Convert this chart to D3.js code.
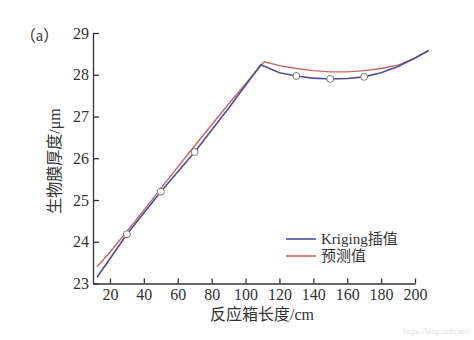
<!DOCTYPE html>
<html>
<head>
<meta charset="utf-8">
<script src="https://cdn.jsdelivr.net/npm/d3@7"></script>
<style>
  body { margin: 0; background: #fff; }
  svg text { font-family: "Liberation Serif", "Times New Roman", "DejaVu Serif", "Noto Sans CJK SC", serif; fill: #333; }
</style>
</head>
<body>
<div id="chart"></div>
<script>
// values
var krigingX = [12.4, 30, 50, 70, 90, 109, 120, 130, 140, 150, 160, 170, 180, 190, 200, 208];
var krigingY = [23.15, 24.18, 25.2, 26.15, 27.2, 28.24, 28.05, 27.97, 27.92, 27.9, 27.91, 27.95, 28.05, 28.2, 28.4, 28.58];
var predX = [12.4, 20, 30, 40, 50, 70, 90, 111, 120, 130, 140, 150, 160, 170, 180, 190, 200, 208];
var predY = [23.4, 23.75, 24.25, 24.75, 25.28, 26.3, 27.3, 28.31, 28.22, 28.15, 28.1, 28.07, 28.07, 28.1, 28.15, 28.23, 28.4, 28.58];
var markerX = [30, 50, 70, 130, 150, 170];
var xTicks = [20, 40, 60, 80, 100, 120, 140, 160, 180, 200];
var yTicks = [23, 24, 25, 26, 27, 28, 29];
var seriesNames = ["Kriging插值", "预测值"];
var seriesColors = ["#4b4f9a", "#c8675f"];

var width = 474, height = 340;
var fontStack = '"Liberation Serif", "Times New Roman", "DejaVu Serif", "Noto Sans CJK SC", serif';

var svg = d3.select("#chart").append("svg")
    .attr("width", width)
    .attr("height", height);

var x = d3.scaleLinear().domain([10, 200]).range([93, 415]);
var y = d3.scaleLinear().domain([23, 29]).range([283.5, 33]);

// axes
var xAxis = d3.axisBottom(x).tickValues(xTicks).tickSize(-5).tickSizeOuter(0).tickPadding(5).tickFormat(d3.format("d"));
var yAxis = d3.axisLeft(y).tickValues(yTicks).tickSize(-6).tickSizeOuter(0).tickPadding(4).tickFormat(d3.format("d"));

var gx = svg.append("g").attr("transform", "translate(0," + y(23) + ")").call(xAxis);
var gy = svg.append("g").attr("transform", "translate(" + x(10) + ",0)").call(yAxis);

[gx, gy].forEach(function (g) {
    g.attr("font-family", fontStack);
    g.selectAll("path, line").attr("stroke", "#333").attr("stroke-width", 1.3);
    g.selectAll("text").style("font-size", "16px").style("font-family", fontStack).attr("fill", "#333");
});

// lines
var line = d3.line()
    .x(function (d) { return x(d[0]); })
    .y(function (d) { return y(d[1]); });

var krigingData = krigingX.map(function (v, i) { return [v, krigingY[i]]; });
var predData = predX.map(function (v, i) { return [v, predY[i]]; });

svg.append("path")
    .datum(predData)
    .attr("d", line)
    .attr("fill", "none")
    .attr("stroke", seriesColors[1])
    .attr("stroke-width", 1.4);

svg.append("path")
    .datum(krigingData)
    .attr("d", line)
    .attr("fill", "none")
    .attr("stroke", seriesColors[0])
    .attr("stroke-width", 1.6);

// markers sit on the kriging curve
var kInterp = d3.scaleLinear().domain(krigingX).range(krigingY);
svg.selectAll(".marker")
    .data(markerX)
    .enter()
    .append("circle")
    .attr("class", "marker")
    .attr("cx", function (d) { return x(d); })
    .attr("cy", function (d) { return y(kInterp(d)); })
    .attr("r", 3.5)
    .attr("fill", "#fff")
    .attr("stroke", "#777")
    .attr("stroke-width", 1);

// legend
var legend = svg.append("g").attr("transform", "translate(286,239)");
seriesNames.forEach(function (name, i) {
    var row = legend.append("g").attr("transform", "translate(0," + (i * 17) + ")");
    row.append("line")
        .attr("x1", 0).attr("x2", 30)
        .attr("y1", 0).attr("y2", 0)
        .attr("stroke", seriesColors[i])
        .attr("stroke-width", 1.6);
    row.append("text")
        .attr("x", 35).attr("y", 5)
        .style("font-size", "15px")
        .text(name);
});

// titles
svg.append("text")
    .attr("x", 20).attr("y", 41)
    .style("font-size", "16px")
    .text("（a）");

svg.append("text")
    .attr("transform", "translate(60,161) rotate(-90)")
    .attr("text-anchor", "middle")
    .style("font-size", "16px")
    .text("生物膜厚度/μm");

svg.append("text")
    .attr("x", 262).attr("y", 320)
    .attr("text-anchor", "middle")
    .style("font-size", "16px")
    .text("反应箱长度/cm");

svg.append("text")
    .attr("x", 470).attr("y", 334)
    .attr("text-anchor", "end")
    .style("font-size", "8px")
    .style("fill", "#ddd")
    .text("https://blog.csdn.net/");
</script>
</body>
</html>
